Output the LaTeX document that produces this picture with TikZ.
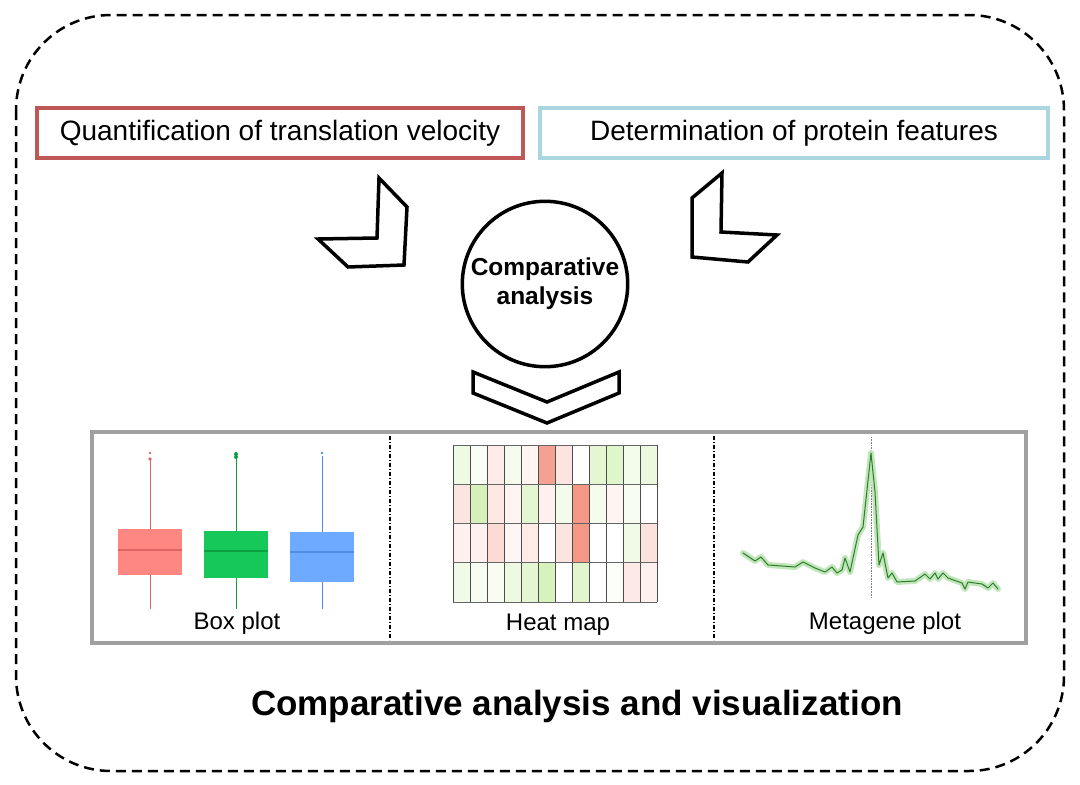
\documentclass[tikz,border=0pt]{standalone}
\usepackage{fontspec}
\setmainfont{Liberation Sans}
\usetikzlibrary{positioning}

\definecolor{quantred}{RGB}{190,88,86}
\definecolor{protblue}{RGB}{170,214,224}
\definecolor{panelgray}{RGB}{160,160,160}
\definecolor{bpred}{RGB}{255,135,130}
\definecolor{bpredline}{RGB}{225,100,100}
\definecolor{bpgreen}{RGB}{22,200,90}
\definecolor{bpgreenline}{RGB}{12,160,65}
\definecolor{bpblue}{RGB}{110,170,255}
\definecolor{bpblueline}{RGB}{80,140,225}
\definecolor{hmr}{RGB}{240,110,85}
\definecolor{hmg}{RGB}{150,220,80}
\definecolor{mgband}{RGB}{192,230,186}
\definecolor{mgline}{RGB}{45,125,45}

\begin{document}
\begin{tikzpicture}[x=1pt,y=-1pt,
        titlebox/.style={draw, line width=4pt, inner sep=0pt, minimum height=50pt,
                         font=\fontsize{28}{32}\selectfont},
        chevron/.style={draw=black, fill=white, line width=3.5pt, line join=miter},
        panel/.style={draw=panelgray, line width=3.5pt, inner sep=0pt},
        separator/.style={line width=2pt, dash pattern=on 4pt off 2pt on 1pt off 2pt},
        plotlabel/.style={font=\fontsize{24}{28}\selectfont},
        ]
        \useasboundingbox (0,0) rectangle (1080,785);

        % Frame
        \draw[line width=2.5pt, dash pattern=on 10pt off 6pt, rounded corners=95pt]
            (16,15) rectangle (1064,771);

        % Inputs
        \node[titlebox, draw=quantred, minimum width=486pt] (quant) at (280,133)
            {Quantification of translation velocity};
        \node[titlebox, draw=protblue, minimum width=508pt] (prot) at (794,133)
            {Determination of protein features};

        % Comparative analysis
        \node[circle, draw, line width=3.5pt, minimum size=158pt, align=center,
              font=\bfseries\fontsize{24.5}{29}\selectfont] (comp) at (545,284)
            {Comparative\\analysis};

        % Chevrons
        \draw[chevron] (379,178) -- (407,207) -- (404,265) -- (348,267) -- (318,239) -- (377,238) -- cycle;
        \draw[chevron] (722,173) -- (692,198) -- (692,257) -- (748,262) -- (777,235) -- (721,232) -- cycle;
        \draw[chevron] (473,372) -- (547,402) -- (619,372) -- (619,393) -- (547,423) -- (473,393) -- cycle;

        % Visualization panel
        \node[panel, minimum width=934pt, minimum height=211pt] (vis) at (559,537.5) {};
        \draw[separator] (390,436) -- (390,640);
        \draw[separator] (714,436) -- (714,640);

        % Box plot
        \foreach \x/\top/\lo/\hi/\med/\bot/\col in {150/458/529/575/550/609/bpred,
                                                     236/457/531/578/551/609/bpgreen,
                                                     322/456/532/582/552/609/bpblue} {
            \draw[\col line, line width=1pt] (\x,\top) -- (\x,\bot);
            \fill[\col] (\x-32,\lo) rectangle (\x+32,\hi);
            \draw[\col line, line width=1.2pt] (\x-32,\med) -- (\x+32,\med);
        }
        \fill[bpredline] (150,453) circle (1.3pt) (150,459) circle (1.8pt);
        \fill[bpgreenline] (236,454) circle (2pt) (236,457) circle (2pt);
        \fill[bpblueline] (322,453) circle (1.3pt);
        \node[plotlabel] (boxlbl) at (237,623) {Box plot};

        % Heat map
        \foreach \row [count=\j from 0] in {
            {hmg!15,hmg!6,hmr!14,hmg!10,hmr!8,hmr!65,hmr!18,white,hmg!25,hmg!30,hmg!12,hmg!18},
            {hmr!18,hmg!40,hmr!16,hmr!8,hmg!25,hmr!10,hmg!12,hmr!72,hmg!10,hmr!8,hmg!8,white},
            {hmr!10,hmr!10,hmr!25,hmr!6,hmr!14,white,hmr!18,hmr!72,white,white,hmg!14,hmr!20},
            {hmg!14,hmg!8,hmg!7,hmg!17,hmg!25,hmg!38,white,hmg!28,white,hmg!3,hmr!15,hmr!10}} {
            \foreach \cell [count=\i from 0] in \row
                \fill[\cell] (453+17*\i,445+39.25*\j) rectangle ++(17,39.25);
        }
        \foreach \i in {0,...,12}
            \draw[black!70, line width=1pt] (453+17*\i,445) -- (453+17*\i,602);
        \foreach \j in {0,...,4}
            \draw[black!60, line width=0.8pt] (453,445+39.25*\j) -- (657,445+39.25*\j);
        \node[plotlabel] (heatlbl) at (558,625) {Heat map};

        % Metagene plot
        \draw[black!50, line width=0.6pt, densely dotted] (871,437) -- (871,598);
        \foreach \w/\c in {6pt/mgband, 1pt/mgline}
            \draw[\c, line width=\w, line join=round, line cap=round] plot coordinates {
                (743,553) (755,561) (761,557) (768,565) (782,566) (795,567) (803,562)
                (815,568) (825,572) (832,567) (837,573) (842,570) (845,558) (850,572)
                (858,535) (863,527) (871,453) (875,492) (879,565) (883,553) (888,578)
                (892,573) (897,582) (915,581) (925,574) (930,579) (935,573) (938,579)
                (943,573) (948,578) (962,583) (965,589) (968,582) (982,584) (988,588)
                (993,583) (998,589)};
        \node[plotlabel] (metalbl) at (885,623) {Metagene plot};

        % Caption
        \node[font=\bfseries\fontsize{35}{40}\selectfont] (caption) at (577,706)
            {Comparative analysis and visualization};

    \end{tikzpicture}
\end{document}
